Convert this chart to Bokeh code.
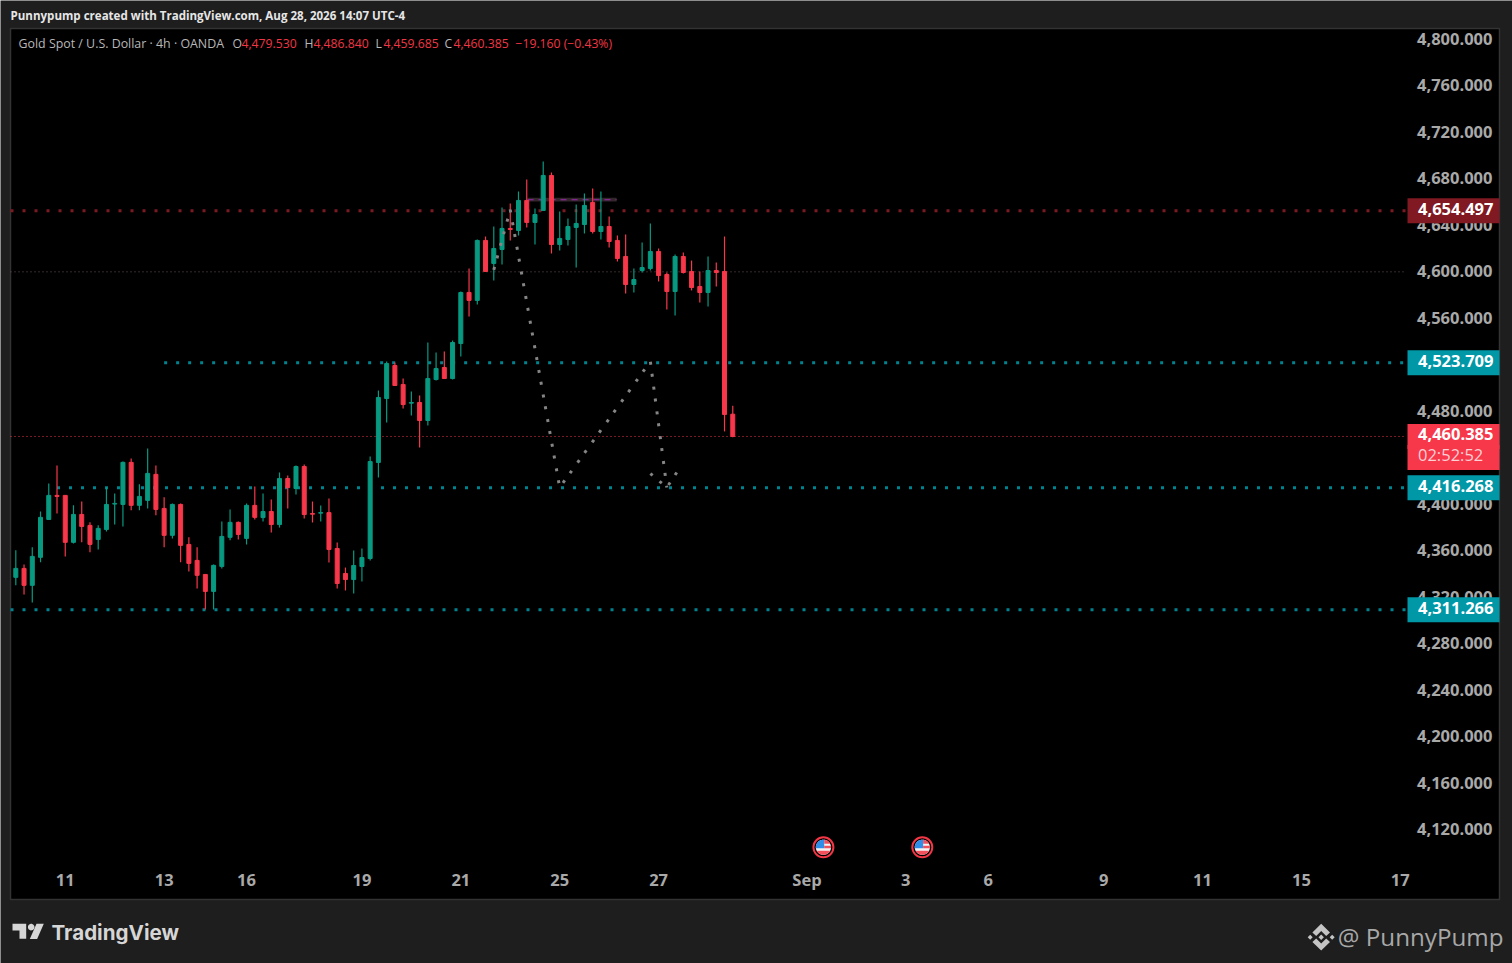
import numpy as np
from bokeh.plotting import figure
from bokeh.embed import file_html
from bokeh.resources import INLINE
from bokeh.core.properties import value
from bokeh.models import FixedTicker, NumeralTickFormatter, Label, PolyAnnotation, ColumnDataSource, Range1d

opens = [4339.2,4346.9,4332.3,4356.4,4389.0,4409.7,4409.7,4369.3,4393.3,4383.9,
 4371.8,4380.4,4402.2,4401.9,4438.1,4401.1,4405.4,4427.8,4398.5,4375.3,
 4401.9,4367.5,4353.8,4341.7,4327.1,4348.6,4373.6,4386.5,4372.7,4401.1,
 4390.6,4395.8,4384.6,4424.2,4415.6,4434.5,4394.1,4394.4,4394.9,4364.0,
 4342.5,4337.3,4348.5,4355.4,4438.0,4493.0,4521.4,4505.1,4489.0,4489.6,
 4474.1,4509.4,4519.7,4510.2,4540.3,4584.3,4577.4,4629.0,4609.2,4621.2,
 4639.3,4637.6,4663.4,4644.5,4654.8,4684.9,4625.5,4629.8,4640.2,4642.7,
 4661.7,4636.7,4641.0,4629.0,4615.2,4591.1,4603.1,4604.9,4619.5,4599.7,
 4585.1,4615.2,4602.3,4589.4,4584.2,4603.1,4602.3,4479.53]
highs = [4362.4,4350.3,4365.0,4395.9,4420.0,4435.5,4409.7,4401.1,4404.5,4386.5,
 4383.9,4416.6,4411.4,4438.9,4441.5,4419.2,4450.1,4435.5,4408.0,4402.8,
 4402.8,4373.6,4365.0,4341.7,4350.3,4387.3,4397.6,4387.3,4402.8,4417.4,
 4411.3,4406.1,4429.4,4426.8,4435.4,4436.2,4404.4,4400.9,4407.0,4369.1,
 4347.6,4362.3,4364.0,4443.1,4499.9,4524.8,4524.0,4510.2,4499.0,4495.6,
 4541.2,4532.6,4533.4,4542.9,4585.1,4604.9,4629.8,4632.4,4641.0,4657.4,
 4660.8,4671.1,4681.5,4656.5,4696.9,4687.5,4653.9,4647.9,4659.9,4669.4,
 4673.7,4671.1,4649.6,4633.3,4634.1,4604.9,4627.2,4643.6,4622.1,4601.4,
 4617.0,4618.6,4611.7,4602.3,4615.2,4610.0,4632.4,4486.84]
lows = [4332.3,4324.5,4317.6,4352.1,4389.0,4394.2,4357.2,4368.4,4369.3,4360.7,
 4363.2,4378.7,4384.7,4383.0,4396.8,4396.8,4398.5,4392.5,4365.0,4372.7,
 4352.1,4344.3,4329.7,4311.6,4311.6,4346.9,4371.0,4371.8,4367.5,4389.0,
 4387.2,4377.7,4382.0,4398.4,4410.4,4389.8,4386.4,4387.2,4351.9,4329.6,
 4327.9,4325.3,4335.6,4353.7,4425.1,4472.4,4504.2,4484.4,4478.4,4450.9,
 4469.8,4508.5,4510.2,4509.4,4529.2,4563.6,4573.9,4602.3,4594.6,4608.3,
 4629.0,4633.3,4640.2,4625.5,4654.8,4617.8,4620.4,4624.7,4605.8,4635.0,
 4635.0,4629.8,4623.0,4610.9,4583.4,4584.2,4601.4,4603.1,4593.7,4569.6,
 4564.4,4600.6,4586.0,4575.6,4572.2,4589.4,4464.7,4459.685]
closes = [4346.9,4332.3,4357.2,4390.8,4409.7,4408.8,4369.3,4393.3,4383.0,4367.5,
 4381.3,4401.9,4402.8,4438.1,4401.1,4408.8,4428.6,4397.6,4375.3,4401.9,
 4366.7,4351.2,4340.9,4327.1,4349.5,4374.4,4386.5,4376.1,4401.1,4390.8,
 4395.8,4384.6,4424.2,4416.4,4434.5,4393.2,4393.5,4394.9,4363.1,4333.9,
 4337.3,4349.4,4356.2,4438.8,4493.9,4523.1,4504.2,4487.8,4489.6,4474.1,
 4510.2,4518.8,4510.2,4541.2,4584.2,4577.4,4629.0,4602.3,4622.1,4639.3,
 4638.4,4663.4,4644.5,4651.3,4684.9,4625.5,4630.7,4641.0,4643.6,4659.1,
 4636.7,4641.0,4628.1,4613.5,4591.1,4595.4,4605.7,4619.5,4598.8,4585.1,
 4615.2,4601.4,4588.5,4584.2,4603.1,4601.4,4479.3,4460.385]

y_ticks = [4120,4160,4200,4240,4280,4320,4360,4400,4440,4480,4520,4560,4600,4640,4680,4720,4760,4800]
x_ticks = [6,18,28,42,54,66,78,96,108,118,132,144,156,168]
x_tick_labels = ["11","13","16","19","21","25","27","Sep","3","6","9","11","15","17"]

level_prices = [4654.497, 4523.709, 4416.268, 4311.266]
level_colors = ["#7c1a24", "#00838f", "#00838f", "#00838f"]

tag_prices = [4654.497, 4523.709, 4416.268, 4311.266]
tag_texts = ["4,654.497", "4,523.709", "4,416.268", "4,311.266"]
tag_colors = ["#801922", "#0097a7", "#0097a7", "#0097a7"]
last_price = 4460.385
last_text = "4,460.385"
countdown = "02:52:52"
countdown_price = 4442.3

path_bars = [58, 60, 66, 77, 79]
path_prices = [4603.7, 4655.4, 4416.5, 4524.9, 4416.5]
wing_bars = [[77.0, 79], [80.2, 79]]
wing_prices = [[4428.5, 4416.5], [4429.4, 4416.5]]

zone_bars = [62.1, 72.9]
zone_top, zone_bottom, zone_mid = 4665.7, 4662.5, 4664.0
faint_price = 4602.0
event_bars = [98, 110]
event_price = 4107.0

GREEN, RED = "#089981", "#f7374a"
PX_X = 8.241
PX_Y = 1.1625
def bx(px):
    return (px - 15.3) / PX_X
def py_price(py):
    return 4835.4 - py / PX_Y

level_starts = [bx(10), 18, 5, bx(10)]
CH_LEFT, CH_RIGHT, CH_TOP, CH_BOT = bx(10), bx(1499), py_price(28), py_price(899)
AXIS_X = bx(1416.5)
LINE_END = bx(1405)
TAG_X = bx(1453)
TAG_TEXT_X = bx(1417.5)
FONT = "Open Sans"
HEAD = "Open Sans"

p = figure(width=1512, height=963, output_backend="svg", toolbar_location=None,
           x_range=(bx(0), bx(1512)), y_range=(py_price(963), py_price(0)), y_axis_location="right",
           background_fill_color="#1e1e1e", border_fill_color="#1e1e1e",
           min_border=0, outline_line_color=None)
p.grid.visible = False
p.extra_y_ranges = {"ticks": Range1d(py_price(963) - 2.4, py_price(0) - 2.4)}

p.quad(left=[CH_LEFT], right=[CH_RIGHT], top=[CH_TOP], bottom=[CH_BOT], fill_color="#000000",
       line_color="#333333", line_width=1.5, level="underlay")

ya = p.yaxis[0]
ya.y_range_name = "ticks"
ya.fixed_location = AXIS_X
ya.ticker = FixedTicker(ticks=y_ticks)
ya.formatter = NumeralTickFormatter(format="0,0.000")
xa = p.xaxis[0]
xa.fixed_location = py_price(867)
xa.ticker = FixedTicker(ticks=x_ticks)
xa.major_label_overrides = dict(zip(x_ticks, x_tick_labels))
for a in (xa, ya):
    a.axis_line_color = None
    a.major_tick_line_color = None
    a.minor_tick_line_color = None
    a.major_label_standoff = 0
    a.major_tick_in = 0
    a.major_tick_out = 0
    a.major_label_text_color = "#a9a9a9"
    a.major_label_text_font = FONT
    a.major_label_text_font_style = "bold"
    a.major_label_text_font_size = "16.5px"

# levels
p.line([CH_LEFT, LINE_END], [faint_price, faint_price], line_color="#6b5252", line_width=1, line_dash="1 3")
p.quad(left=[zone_bars[0]], right=[zone_bars[1]], top=[zone_top], bottom=[zone_bottom],
       fill_color="#33272c", line_color=None)
p.line(zone_bars, [zone_mid, zone_mid], line_color="#9c27b0", line_width=1, line_dash="6 5")
for price, start, col in zip(level_prices, level_starts, level_colors):
    p.line([start, LINE_END], [price, price], line_color=col, line_width=3, line_dash="3 9")
p.line([CH_LEFT, LINE_END], [last_price, last_price], line_color=RED, line_width=1, line_dash="1 3")

# candles
idx = np.arange(len(opens))
colors = [GREEN if c >= o else RED for o, c in zip(opens, closes)]
src = ColumnDataSource(dict(x=idx, o=opens, h=highs, l=lows, c=closes, col=colors))
p.segment("x", "h", "x", "l", source=src, line_color="col", line_width=1.2)
p.vbar("x", width=4 / PX_X, top="o", bottom="c", source=src, fill_color="col", line_color="col", line_width=1)

# projected path
p.line(path_bars, path_prices, line_color="#858585", line_width=3, line_dash="3 9 3 10")
for wb, wp in zip(wing_bars, wing_prices):
    p.line(wb, wp, line_color="#858585", line_width=3, line_dash="3 9 3 10")

# event flags
th = np.linspace(0, 2 * np.pi, 60)
R = 7.6
def disc(cx, xlo=-99, xhi=99, ylo=-99, yhi=99):
    dx = np.clip(R * np.cos(th), xlo, xhi)
    dy = np.clip(R * np.sin(th), ylo, yhi)
    return list(cx + dx / PX_X), list(event_price - dy / PX_Y)
p.scatter(event_bars, [event_price] * 2, marker="circle", size=20, fill_color="#000000",
          line_color="#f23645", line_width=2)
for cx in event_bars:
    pieces = [(dict(), "#f4f4f4"), (dict(ylo=3.6), "#f4505c"), (dict(xlo=0.8, yhi=-3.4), "#f4505c"),
              (dict(xlo=0.8, ylo=-1.4, yhi=0.9), "#f4505c"), (dict(xhi=0.8, yhi=0.9), "#2f8fe8")]
    for kw, col in pieces:
        xs, ys = disc(cx, **kw)
        p.patch(xs, ys, fill_color=col, line_color=None)

# price tags
p.rect([TAG_X] * 4, tag_prices, width=92, height=25, width_units="screen", height_units="screen",
       fill_color=tag_colors, line_color=None, level="overlay")
p.rect([TAG_X], [last_price], width=92, height=25, width_units="screen", height_units="screen",
       fill_color=RED, line_color=None, level="overlay")
p.rect([TAG_X], [countdown_price], width=92, height=25, width_units="screen", height_units="screen",
       fill_color=RED, line_color=None, level="overlay")
p.text([TAG_TEXT_X] * 5, tag_prices + [last_price], text=tag_texts + [last_text], text_color="#ffffff",
       text_font=value(FONT), text_font_size="16.5px", text_font_style="bold", text_baseline="middle",
       y_offset=-2, level="overlay")
p.text([TAG_TEXT_X], [countdown_price], text=[countdown], text_color="#ffd0d4",
       text_font=value(FONT), text_font_size="16.5px", text_baseline="middle", y_offset=-3, level="overlay")

# page-coordinate helpers: the frame fills the whole page
def lab(px, py, text, color, size, font=HEAD, align="left", weight="normal"):
    p.add_layout(Label(x=px, y=963 - py, x_units="screen", y_units="screen", text=text,
                       text_color=color, text_font_size=f"{size}px", text_font=font,
                       text_baseline="middle", text_align=align, text_font_style=weight))
def poly(pts, color):
    p.add_layout(PolyAnnotation(xs=[float(a) for a, b in pts], ys=[963 - float(b) for a, b in pts],
                                xs_units="screen", ys_units="screen", fill_color=color, fill_alpha=1,
                                line_color=None))

lab(10, 15, "Punnypump created with TradingView.com, Aug 28, 2026 14:07 UTC-4", "#e6e6e6", 11.55, weight="bold")
GR = "#b8b8b8"; RD = "#f23645"
lab(18, 43, "Gold Spot / U.S. Dollar · 4h · OANDA", GR, 12.4)
for x, t, c in [(232, "O", GR), (241, "4,479.530", RD), (304, "H", GR), (313, "4,486.840", RD),
                (375, "L", GR), (383, "4,459.685", RD), (444, "C", GR), (453, "4,460.385", RD),
                (515, "−19.160 (−0.43%)", RD)]:
    lab(x, 43, t, c, 12.2)

# TradingView mark and wordmark
LOGO = "#d6d6d6"
poly([(12, 923.3), (25.7, 923.3), (25.7, 938.3), (19, 938.3), (19, 930), (12, 930)], LOGO)
poly([(43.3, 923.3), (36, 923.3), (29.3, 938.6), (36.6, 938.6)], LOGO)
t2 = np.linspace(0, 2 * np.pi, 24)
poly(list(zip(30.7 + 3.3 * np.cos(t2), 926.6 + 3.3 * np.sin(t2))), LOGO)
lab(51, 932, "TradingView", LOGO, 20.6, font="Inter", weight="bold")

# author mark
AU = "#c4c4c4"
cx0, cy0 = 1320.7, 936.7
def diamond(cx, cy, r):
    poly([(cx, cy - r), (cx + r, cy), (cx, cy + r), (cx - r, cy)], AU)
poly([(cx0, 923.3), (cx0 + 8.8, 932), (cx0 + 5, 935.4), (cx0, 930.4), (cx0 - 5, 935.4), (cx0 - 8.8, 932)], AU)
poly([(cx0, 950), (cx0 + 8.8, 941.4), (cx0 + 5, 938), (cx0, 943), (cx0 - 5, 938), (cx0 - 8.8, 941.4)], AU)
diamond(cx0, cy0, 2.7)
diamond(cx0 - 11, cy0, 2.5)
diamond(cx0 + 11, cy0, 2.5)
lab(1503, 936, "@ PunnyPump", "#a8a8a8", 24.2, font="Open Sans", align="right")

open("out.html", "w").write(file_html(p, INLINE))
